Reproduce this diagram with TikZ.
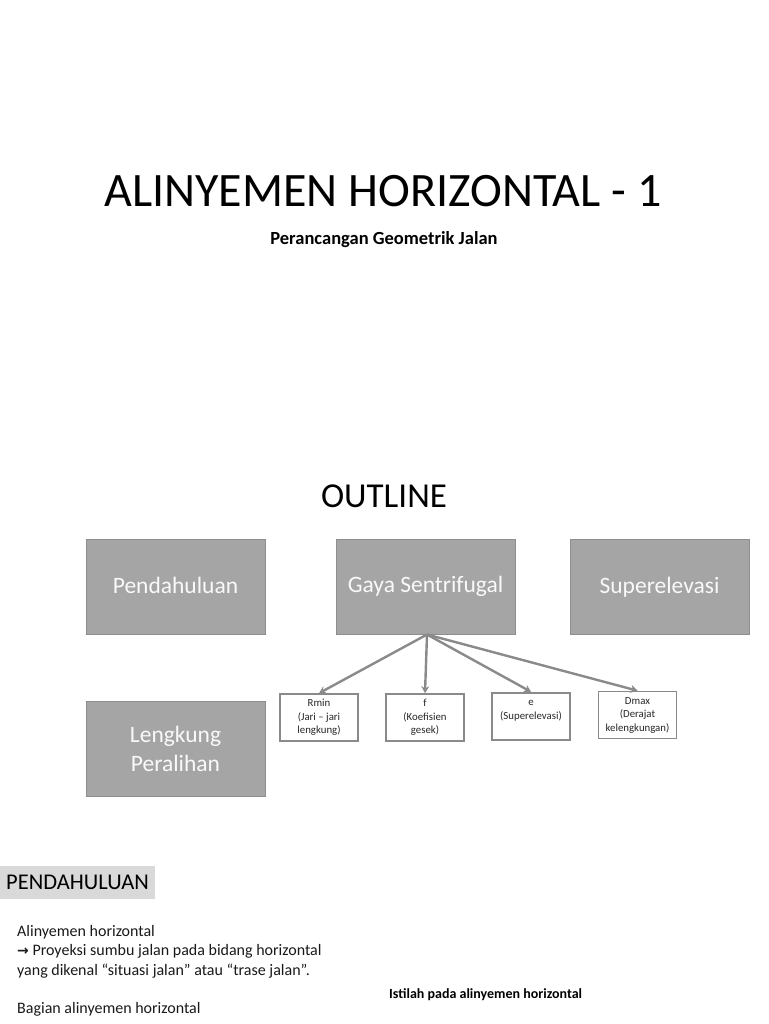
\documentclass[tikz,border=0pt]{standalone}
\usepackage{fontspec}
\setmainfont{Carlito}
\newfontfamily\symfont{DejaVu Sans}
\usetikzlibrary{arrows.meta}
\definecolor{boxgray}{HTML}{A5A5A5}
\definecolor{boxedge}{HTML}{8E8E8E}
\definecolor{linegray}{HTML}{8A8A8A}
\definecolor{labelgray}{HTML}{D9D9D9}
\tikzset{
  bigbox/.style={draw=boxedge, line width=1pt, fill=boxgray, minimum width=179pt, minimum height=95pt, inner sep=0pt, text=white!95!gray, font=\fontsize{23.5}{29}\selectfont, align=center},
  smallbox/.style={draw=linegray, line width=1.6pt, fill=white, minimum width=78pt, minimum height=47pt, inner sep=1pt, font=\fontsize{10.8}{13.5}\selectfont, align=center, text=black!85},
  conn/.style={draw=linegray, line width=2.4pt, -{Stealth[length=7pt,width=8pt]}},
  body/.style={anchor=west, inner sep=0pt, font=\fontsize{16}{19}\selectfont, text=black!90}
}
\begin{document}
\begin{tikzpicture}[x=1pt,y=-1pt]
\useasboundingbox (0,0) rectangle (768,1024);
\node (title) at (383,191) {\fontsize{48}{56}\selectfont ALINYEMEN HORIZONTAL - 1};
\node (sub) at (384,240) {\fontsize{18.5}{22}\selectfont\bfseries Perancangan Geometrik Jalan};
\node (outline) at (384,496) {\fontsize{35}{40}\selectfont OUTLINE};

\node[bigbox] (pend) at (175.5,587) {Pendahuluan\vphantom{Pgy}};
\node[bigbox] (gaya) at (425.5,586.5) {Gaya Sentrifugal\vphantom{Pgy}};
\node[bigbox] (super) at (659.5,587) {Superelevasi\vphantom{Pgy}};
\node[bigbox] (leng) at (175.5,748.5) {Lengkung\\Peralihan};

\node[smallbox] (rmin) at (319,717.5) {Rmin\\(Jari -- jari\\lengkung)};
\node[smallbox] (f) at (425,717.5) {f\\(Koefisien\\gesek)};
\node[smallbox, line width=2.4pt] (e) at (531,716.5) {e\\(Superelevasi)\\\mbox{}};
\node[smallbox] (dmax) at (637.5,715) {Dmax\\(Derajat\\kelengkungan)};

\coordinate (hub) at ([xshift=1.5pt]gaya.south);
\draw[conn] (hub) -- (rmin.north);
\draw[conn] (hub) -- (f.north);
\draw[conn] (hub) -- (e.north);
\draw[conn] (hub) -- (dmax.north);

\node[fill=labelgray, anchor=west, minimum width=155pt, minimum height=33pt, inner sep=0pt, text width=155pt, align=left, font=\fontsize{22.5}{26}\selectfont] (lab) at (0,882.5) {\hspace*{6pt}PENDAHULUAN};

\node[body] (b1) at (17,932) {Alinyemen horizontal};
\node[body] (b2) at (17,951.5) {{\symfont\bfseries\fontsize{14}{16}\selectfont →} Proyeksi sumbu jalan pada bidang horizontal};
\node[body] (b3) at (17,971) {yang dikenal “situasi jalan” atau “trase jalan”.};
\node[body] (b4) at (17,1009.5) {Bagian alinyemen horizontal};
\node[anchor=west, inner sep=0pt, font=\fontsize{14}{16}\selectfont\bfseries] (ist) at (389,995) {Istilah pada alinyemen horizontal};
\end{tikzpicture}
\end{document}
